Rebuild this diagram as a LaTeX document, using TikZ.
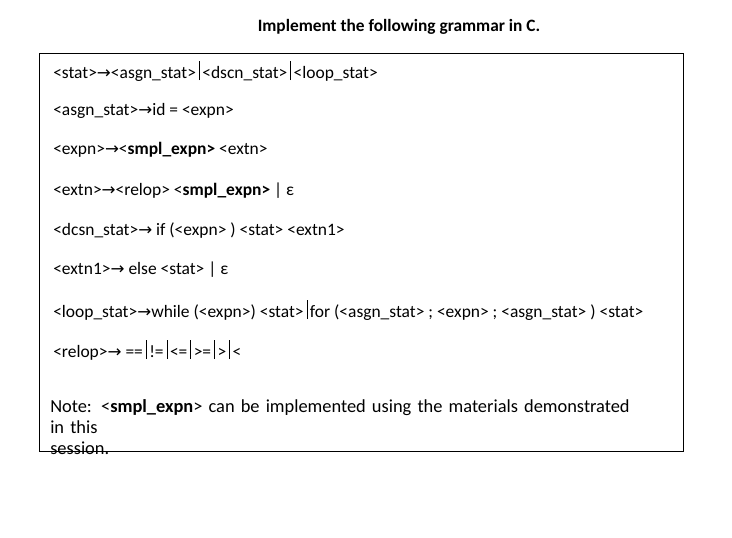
\documentclass[tikz,border=0pt]{standalone}
\usepackage{fontspec}
\setmainfont{Carlito}
\newfontfamily\symf{DejaVu Sans}
\newcommand{\arr}{{\symf\fontsize{12.5pt}{13pt}\selectfont →}}
\newcommand{\br}{\,\rule[-0.25ex]{0.4pt}{2.3ex}\,}
\begin{document}
\begin{tikzpicture}[x=0.75pt,y=-0.75pt,
  rule/.style={anchor=west,inner sep=0pt,font=\fontsize{13.1pt}{16pt}\selectfont}]
\useasboundingbox (0,0) rectangle (732,537);
\node[font=\fontsize{13pt}{16pt}\selectfont\bfseries] (title) at (399,27) {Implement the following grammar in C.};
\draw[line width=0.6pt] (39,53) rectangle (683,451);
\node[rule] (r1) at (53,71) {<stat>\arr<asgn\_stat>\br<dscn\_stat>\br<loop\_stat>};
\node[rule] (r2) at (53,111) {<asgn\_stat>\arr id = <expn>};
\node[rule] (r3) at (53,150) {<expn>\arr<\textbf{smpl\_expn>} <extn>};
\node[rule] (r4) at (53,191) {<extn>\arr<relop> <\textbf{smpl\_expn>} | ε};
\node[rule] (r5) at (53,231) {<dcsn\_stat>\arr\ if (<expn> ) <stat> <extn1>};
\node[rule] (r6) at (53,270) {<extn1>\arr\ else <stat> | ε};
\node[rule] (r7) at (53,310) {<loop\_stat>\arr while (<expn>) <stat>\br for (<asgn\_stat> ; <expn> ; <asgn\_stat> ) <stat>};
\node[rule] (r8) at (53,350) {<relop>\arr\ ==\br!=\br<=\br>=\br>\br<};
\node[rule,align=left,text width=440pt,anchor=north west,font=\fontsize{13.8pt}{16pt}\selectfont] (note) at (50,399) {\hyphenpenalty=10000 Note: <\textbf{smpl\_expn}> can be implemented using the materials demonstrated in this\\ session.};
\end{tikzpicture}
\end{document}
